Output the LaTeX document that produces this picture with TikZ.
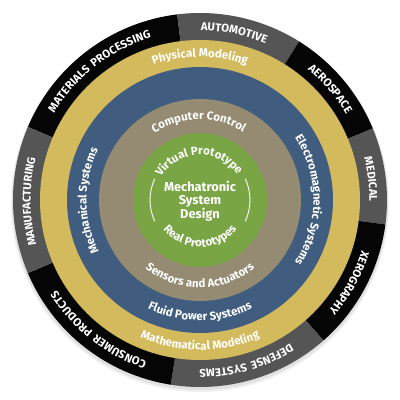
\documentclass[tikz,border=0pt]{standalone}
\usepackage{fontspec}
\setmainfont{Fira Sans}
\newfontfamily\outerfam{Fira Sans}[LetterSpace=14]
\usetikzlibrary{decorations.text}
\definecolor{cgreen}{HTML}{7AA544}
\definecolor{ctan}{HTML}{958A72}
\definecolor{cblue}{HTML}{405D7F}
\definecolor{cyellow}{HTML}{D3BA5D}
\definecolor{cgray}{HTML}{555555}
\definecolor{cblack}{HTML}{050505}
\newcommand\ringfont{\fontsize{11.5}{12}\bfseries\selectfont}
\newcommand\outerfont{\outerfam\fontsize{11.3}{12}\bfseries\selectfont}
% clockwise text: radius, center angle, half span, font, text
\newcommand\cwtext[5]{%
  \path[decorate, decoration={text along path, text align=center, text color=white, text={|#4|#5}}]
    ({#2+#3}:#1) arc[start angle={#2+#3}, end angle={#2-#3}, radius=#1];}
% counter-clockwise text
\newcommand\ccwtext[5]{%
  \path[decorate, decoration={text along path, text align=center, text color=white, text={|#4|#5}}]
    ({#2-#3}:#1) arc[start angle={#2-#3}, end angle={#2+#3}, radius=#1];}
\newcommand\sector[3]{%
  \fill[#3] (0,0) -- (#1:187) arc[start angle=#1, end angle=#2, radius=187] -- cycle;}
\begin{document}
\begin{tikzpicture}[x=1pt,y=1pt]
\useasboundingbox (0,0) rectangle (400,400);
\begin{scope}[shift={(200,200)}]
  % soft shadow
  \fill[black!6] (0,-3) circle[radius=189];
  \fill[black!12] (0,-2) circle[radius=188];
  % outer segments
  \sector{97}{157}{cblack}
  \sector{58}{97}{cgray}
  \sector{22.5}{58}{cblack}
  \sector{-7.5}{22.5}{cgray}
  \sector{-48.7}{-7.5}{cblack}
  \sector{-99}{-48.7}{cgray}
  \sector{-157}{-99}{cblack}
  \sector{157}{203}{cgray}
  % rings
  \fill[cyellow] (0,0) circle[radius=160];
  \fill[cblue] (0,0) circle[radius=133];
  \fill[ctan] (0,0) circle[radius=101];
  \fill[cgreen] (0,0) circle[radius=67];
  % white arcs in green
  \draw[white, line width=0.9pt] (155:50) arc[start angle=155, end angle=205, radius=50];
  \draw[white, line width=0.9pt] (-25:50) arc[start angle=-25, end angle=25, radius=50];
  % outer texts
  \cwtext{169.5}{128}{45}{\outerfont}{MATERIALS PROCESSING}
  \cwtext{169.5}{78.5}{35}{\outerfont}{AUTOMOTIVE}
  \cwtext{169.5}{40.5}{35}{\outerfont}{AEROSPACE}
  \cwtext{169.5}{7}{35}{\outerfont}{MEDICAL}
  \cwtext{169.5}{-29}{35}{\outerfont}{XEROGRAPHY}
  \cwtext{169.5}{-74}{40}{\outerfont}{DEFENSE SYSTEMS}
  \cwtext{169.5}{-128}{45}{\outerfont}{CONSUMER PRODUCTS}
  \cwtext{169.5}{180.5}{40}{\outerfont}{MANUFACTURING}
  % yellow ring
  \cwtext{143}{90}{60}{\ringfont}{Physical Modeling}
  \ccwtext{150}{-90}{60}{\ringfont}{Mathematical Modeling}
  % blue ring
  \cwtext{113.5}{0}{70}{\ringfont}{Electromagnetic Systems}
  \cwtext{113.5}{180.5}{70}{\ringfont}{Mechanical Systems}
  \ccwtext{120.5}{-90}{70}{\ringfont}{Fluid Power Systems}
  % tan ring
  \cwtext{80.5}{91}{85}{\ringfont}{Computer Control}
  \ccwtext{87.5}{-90}{85}{\ringfont}{Sensors and Actuators}
  % green
  \cwtext{45}{91.5}{88}{\ringfont}{Virtual Prototype}
  \ccwtext{47}{-90}{88}{\ringfont}{Real Prototypes}
  \node[text=white, align=center, font=\fontsize{12.8}{13}\bfseries\selectfont] (core) at (0,-1.5) {Mechatronic\\System\\Design};
\end{scope}
\end{tikzpicture}
\end{document}
